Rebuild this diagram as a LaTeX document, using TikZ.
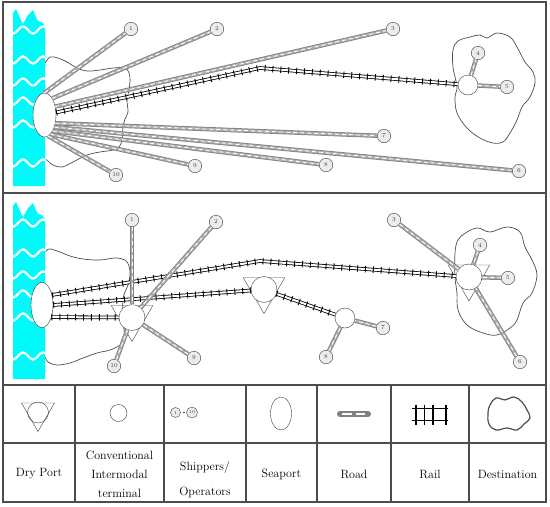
\documentclass[tikz,border=0pt]{standalone}
\usepackage{tikz}
\usetikzlibrary{positioning, shapes.geometric}

\definecolor{seablue}{RGB}{0,250,250}

\tikzset{
    road/.style={draw=gray, line width=4.4pt,
        postaction={draw=gray!65, line width=2.8pt},
        postaction={draw=white, line width=0.9pt, dash pattern=on 4pt off 3pt}},
    rail/.style={draw=black, line width=3.6pt,
        postaction={draw=white, line width=2pt},
        postaction={draw=black, line width=6.5pt, dash pattern=on 0.9pt off 7pt}},
    shipper/.style={circle, draw=gray!50!black, fill=gray!15, inner sep=0pt,
        minimum size=13.5pt, text=black!75, font=\fontsize{6}{6}\selectfont},
    terminal/.style={circle, draw=black!75, fill=white, inner sep=0pt, minimum size=#1},
    drytri/.style={regular polygon, regular polygon sides=3, shape border rotate=180,
        draw=black!75, inner sep=0pt, minimum size=#1},
    seaport/.style={ellipse, draw=black!75, fill=white, inner sep=0pt},
    blob/.style={draw=black!70, line width=0.7pt},
    wave/.style={draw=white, line width=2.2pt, line cap=round},
    boxline/.style={draw=gray!60!black, line width=1.3pt},
    legtext/.style={font=\fontsize{12}{19}\selectfont, align=center}
}

\begin{document}
\begin{tikzpicture}[x=1pt, y=-1pt]
    \useasboundingbox (0,0) rectangle (550,507);

    % hinterland and destination areas
    \draw[blob] plot[smooth cycle, tension=0.6] coordinates {(45,63) (50,57) (58,58) (67,62) (77,68) (87,71) (100,70) (113,68) (125,68) (129,73) (130,80) (129,90) (127,100) (128,112) (125,119) (123,127) (122,140) (119,147) (113,150) (100,152) (87,155) (73,162) (62,167) (53,165) (47,160) (38,150) (38,70)};
    \draw[blob] plot[smooth cycle, tension=0.6] coordinates {(46,251) (50,249) (60,252) (70,256) (83,259) (100,260) (115,258) (125,260) (129,266) (130,275) (128,285) (125,292) (123,300) (123,315) (124,330) (125,338) (120,345) (110,350) (97,353) (83,358) (70,363) (57,365) (48,362) (45,357) (38,345) (38,260)};
    \draw[blob] plot[smooth cycle, tension=0.6] coordinates {(453,50) (458,41) (470,37) (480,35) (487,38) (497,33) (510,37) (517,47) (525,62) (533,72) (535,83) (530,97) (522,107) (517,120) (510,133) (503,142) (493,143) (480,138) (467,128) (457,113) (455,97) (457,87) (453,67)};
    \draw[blob] plot[smooth cycle, tension=0.6] coordinates {(458,240) (467,232) (478,228) (490,232) (507,227) (520,232) (525,247) (532,260) (537,275) (532,293) (523,303) (517,320) (510,328) (497,335) (483,333) (467,325) (458,310) (457,293) (455,277) (455,253)};

    % sea
    \foreach \dy in {0,193} {
        \begin{scope}[shift={(0,\dy)}]
            \fill[seablue] (13,13) -- (16,9) -- (21,20) -- (23,24) -- (28,15) -- (33,10) -- (36,17) -- (38,21) -- (42,22) -- (45,26) -- (45,186) -- (13,186) -- cycle;
            \foreach \w in {30,60,82,101,124,163}
                \draw[wave] plot[domain=13:45, samples=25, smooth] (\x,{\w+3.5*cos(18*(\x-13))});
        \end{scope}
    }

    % top panel
    \node[seaport, minimum width=23pt, minimum height=44pt] (spA) at (44.5,115) {};
    \node[terminal=20pt] (ctA) at (468,85) {};
    \coordinate (kA) at (260,68);
    \foreach \i/\px/\py in {1/131/29, 2/217/29, 3/393/29, 4/478/53, 5/507/87, 6/519/171, 7/384/136, 8/326/165, 9/195/166, 10/116/175}
        \node[shipper] (sA\i) at (\px,\py) {\i};

    \draw[rail] (spA) -- (kA) -- (ctA);
    \draw[road] (spA.north) -- (sA1);
    \draw[road] (spA.65) -- (sA2);
    \draw[road] (spA.38) -- (sA3);
    \draw[road] (spA.-37) -- (sA7);
    \draw[road] (spA.-51) -- (sA6);
    \draw[road] (spA.-63) -- (sA8);
    \draw[road] (spA.-73) -- (sA9);
    \draw[road] (spA.-80) -- (sA10);
    \draw[road] (ctA) -- (sA4);
    \draw[road] (ctA) -- (sA5);

    % bottom panel
    \node[seaport, minimum width=22pt, minimum height=45pt] (spB) at (42,305) {};
    \node[drytri=48pt] (dpB1t) at (132,317.5) {};
    \node[terminal=26pt] (dpB1) at (132,317.5) {};
    \node[drytri=48pt] (dpB2t) at (264,289.5) {};
    \node[terminal=26pt] (dpB2) at (264,289.5) {};
    \node[drytri=48pt] (dpB3t) at (469,277) {};
    \node[terminal=26pt] (dpB3) at (469,277) {};
    \node[terminal=20pt] (ctB) at (345,318) {};
    \coordinate (kB) at (260,261);
    \foreach \i/\px/\py in {1/132/220, 2/216/222, 3/394/220, 4/480/245, 5/508/278, 6/520/362, 7/383/328, 8/326/357, 9/194/358, 10/114/366}
        \node[shipper] (sB\i) at (\px,\py) {\i};

    \draw[rail] (spB.45) -- (kB) -- (dpB3);
    \draw[rail] (spB.east) -- (dpB2);
    \draw[rail] (spB.-52) -- (dpB1);
    \draw[rail] (dpB2) -- (ctB);
    \foreach \i in {1,2,9,10}
        \draw[road] (sB\i) -- (dpB1);
    \foreach \i in {7,8}
        \draw[road] (sB\i) -- (ctB);
    \foreach \i in {3,4,5,6}
        \draw[road] (sB\i) -- (dpB3);

    % legend symbols
    \node[drytri=38pt] (lgDryT) at (38,412.5) {};
    \node[terminal=21pt, fill=none] (lgDry) at (38,412.5) {};
    \node[terminal=17pt] (lgTerm) at (118.5,413) {};
    \node[shipper, minimum size=10pt, font=\fontsize{4.5}{4.5}\selectfont] (lgS1) at (175.5,412.5) {1};
    \node[shipper, minimum size=11pt, font=\fontsize{4.5}{4.5}\selectfont] (lgS10) at (192,412.5) {10};
    \draw[gray!50!black, line width=1.2pt, shorten <=1.8pt, shorten >=1.8pt] (lgS1) -- (lgS10);
    \node[seaport, minimum width=21pt, minimum height=33pt] (lgSea) at (281,413.5) {};
    \coordinate (lgRdW) at (340,414);
    \coordinate (lgRdE) at (368,414);
    \draw[gray, line width=6pt, line cap=round,
        postaction={draw=white, line width=1.3pt, line cap=butt, shorten <=2pt, shorten >=3pt, dash pattern=on 9.5pt off 4pt}] (lgRdW) -- (lgRdE);
    \draw[line width=1.6pt] (412,408.5) -- (448,408.5) (412,420.5) -- (448,420.5);
    \foreach \tx in {416,424.5,433,446}
        \draw[line width=1.6pt] (\tx,404.5) -- (\tx,424.5);
    \draw[blob, line width=1.2pt] plot[smooth cycle, tension=0.7] coordinates {(490,405) (496,398) (505,400) (514,397) (522,402) (527,410) (530,418) (524,424) (517,430) (507,428) (496,430) (489,424) (488,413)};

    % legend texts
    \node[legtext] (lgDryTxt) at (39,474) {Dry Port};
    \node[legtext] (lgTermTxt) at (119.5,474) {Conventional\\Intermodal\\terminal};
    \node[legtext, font=\fontsize{12}{25}\selectfont] (lgShipTxt) at (205,479.5) {Shippers/\\Operators};
    \node[legtext] (lgSeaTxt) at (281.5,474) {Seaport};
    \node[legtext] (lgRoadTxt) at (354,474) {Road};
    \node[legtext] (lgRailTxt) at (430,474) {Rail};
    \node[legtext] (lgDestTxt) at (507.5,474) {Destination};

    % frame and table
    \draw[boxline] (3,2) rectangle (546,502);
    \draw[boxline] (3,193) -- (546,193);
    \draw[boxline] (3,385) -- (546,385);
    \draw[boxline] (3,443) -- (546,443);
    \foreach \cx in {75,164,246,317,391,469}
        \draw[boxline] (\cx,385) -- (\cx,502);
\end{tikzpicture}
\end{document}
